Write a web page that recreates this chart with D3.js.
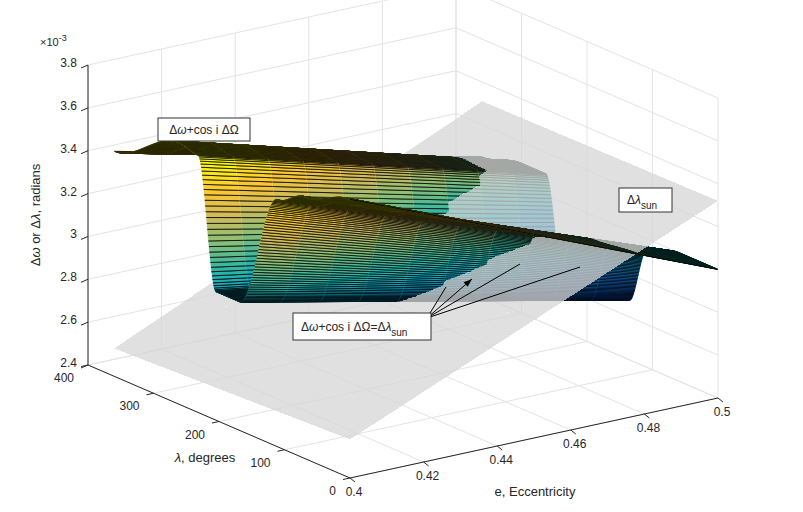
<!DOCTYPE html>
<html><head><meta charset="utf-8">
<script src="https://cdn.jsdelivr.net/npm/d3@7"></script>
<style>body{margin:0;background:#fff}text{font-family:"Liberation Sans",Arial,sans-serif;fill:#262626}</style>
</head><body>
<svg id="c" width="803" height="512"></svg>
<script>
// ---- data ----
const zTicks = [2.4, 2.6, 2.8, 3, 3.2, 3.4, 3.6, 3.8];
const zTickLabels = ["2.4","2.6","2.8","3","3.2","3.4","3.6","3.8"];
const lamTicks = [0, 100, 200, 300, 400];
const eTicks = [0.4, 0.42, 0.44, 0.46, 0.48, 0.5];
const eTickLabels = ["0.4","0.42","0.44","0.46","0.48","0.5"];
// surface profile knots (lambda -> z*1e3) at e=0.4 and e=0.5
const knotLam04 = [0, 70, 112, 168, 205, 232, 262, 360];
const knotZ04   = [3.70, 3.62, 3.55, 3.00, 3.00, 3.60, 3.62, 3.45];
const knotLam05 = [0, 60, 108, 135, 238, 262, 300, 360];
const knotZ05   = [3.00, 3.00, 2.95, 2.68, 2.68, 3.10, 3.10, 3.05];
// plane (Delta lambda_sun) corner values: [lam0,e0.4],[lam360,e0.4],[lam0,e0.5],[lam360,e0.5]
const planeZ = [2.58, 2.53, 3.32, 3.31];

// ---- projection ----
const aS = d3.scaleLinear().domain([0,400]).range([0,1]);
const bS = d3.scaleLinear().domain([0.4,0.5]).range([0,1]);
const cS = d3.scaleLinear().domain([2.4,3.8]).range([0,1]);
const O=[350,478], A=[-262,-113], B=[368,-80], H=300;
function proj(l,e,z){const a=aS(l),b=bS(e),c=cS(z);return [O[0]+a*A[0]+b*B[0], O[1]+a*A[1]+b*B[1]-c*H];}
function depth(l,e,z){return 0.75*aS(l)+0.55*bS(e)-0.25*cS(z);}

const svg=d3.select("#c");
const gGrid=svg.append("g"), gS=svg.append("g"), gA=svg.append("g");
const gridC="#e3e3e3";
function line(g,p,q,c,w){g.append("line").attr("x1",p[0]).attr("y1",p[1]).attr("x2",q[0]).attr("y2",q[1]).attr("stroke",c).attr("stroke-width",w||1);}
lamTicks.forEach(l=>line(gGrid,proj(l,0.4,2.4),proj(l,0.5,2.4),gridC));
eTicks.forEach(e=>line(gGrid,proj(0,e,2.4),proj(400,e,2.4),gridC));
zTicks.forEach(z=>line(gGrid,proj(400,0.4,z),proj(400,0.5,z),gridC));
eTicks.forEach(e=>line(gGrid,proj(400,e,2.4),proj(400,e,3.8),gridC));
zTicks.forEach(z=>line(gGrid,proj(400,0.5,z),proj(0,0.5,z),gridC));
lamTicks.forEach(l=>line(gGrid,proj(l,0.5,2.4),proj(l,0.5,3.8),gridC));

// ---- surface on a feature-following grid (s = knot index, fractional) ----
function ss(t){return t*t*(3-2*t);}
function surfPt(s,e){
  const t=bS(e), i=Math.min(Math.floor(s),knotLam04.length-2), u=s-i;
  const l0=knotLam04[i]+(knotLam05[i]-knotLam04[i])*t, l1=knotLam04[i+1]+(knotLam05[i+1]-knotLam04[i+1])*t;
  const z0=knotZ04[i]+(knotZ05[i]-knotZ04[i])*t, z1=knotZ04[i+1]+(knotZ05[i+1]-knotZ04[i+1])*t;
  return [l0+(l1-l0)*u, e, z0+(z1-z0)*ss(u)];
}
const sVals=[];
for(let i=0;i<knotLam04.length-1;i++){
  const len=((knotLam04[i+1]-knotLam04[i])+(knotLam05[i+1]-knotLam05[i]))/2;
  const n=Math.max(4,Math.round(len/0.75));
  for(let k=0;k<n;k++) sVals.push(i+k/n);
}
sVals.push(knotLam04.length-1);
function planeAt(l,e){const a=l/360,b=bS(e);return planeZ[0]*(1-a)*(1-b)+planeZ[1]*a*(1-b)+planeZ[2]*(1-a)*b+planeZ[3]*a*b;}
const parula=["#352a87","#0f5cdd","#1481d6","#06a4ca","#2eb7a4","#87bf77","#d1bb59","#fec832","#f9fb0e"];
const col=d3.scaleLinear().domain(d3.range(parula.length).map(i=>2.6+i*(3.55-2.6)/(parula.length-1))).range(parula).clamp(true);

const NE=10, cells=[];
for(let j=0;j<sVals.length-1;j++){
  for(let k=0;k<NE;k++){
    const e=0.4+k*0.1/NE, e1=e+0.1/NE;
    const q=[surfPt(sVals[j],e),surfPt(sVals[j],e1),surfPt(sVals[j+1],e1),surfPt(sVals[j+1],e)];
    const pts=q.map(v=>proj(...v));
    const zm=d3.mean(q,v=>v[2]), lm=d3.mean(q,v=>v[0]);
    cells.push({t:0,pts,d:depth(lm,e+0.05/NE,zm),c:col(zm)});
  }
}
const dl=2;
for(let l=0;l<360;l+=dl){
  for(let k=0;k<NE;k++){
    const e=0.4+k*0.1/NE, e1=e+0.1/NE, l1=l+dl;
    const ps=[planeAt(l,e),planeAt(l,e1),planeAt(l1,e1),planeAt(l1,e)];
    const pp=[proj(l,e,ps[0]),proj(l,e1,ps[1]),proj(l1,e1,ps[2]),proj(l1,e,ps[3])];
    cells.push({t:1,pts:pp,d:depth(l+dl/2,e+0.05/NE,d3.mean(ps)),c:"#d6d6d6"});
  }
}
cells.sort((p,q)=>q.d-p.d);
cells.forEach(c=>{
  const d="M"+c.pts.map(p=>p[0].toFixed(2)+","+p[1].toFixed(2)).join("L")+"Z";
  if(c.t===0){
    gS.append("path").attr("d",d).attr("fill",c.c).attr("stroke",c.c).attr("stroke-width",0.3);
    gS.append("path").attr("d","M"+c.pts[0]+"L"+c.pts[1]+"M"+c.pts[2]+"L"+c.pts[3]).attr("stroke","#000").attr("stroke-width",0.8).attr("fill","none");
  } else {
    gS.append("path").attr("d",d).attr("fill",c.c).attr("fill-opacity",0.75).attr("shape-rendering","crispEdges");
  }
});

// ---- axes ----
const ax="#262626";
line(gA,proj(400,0.4,2.4),proj(400,0.4,3.8),ax);
line(gA,proj(400,0.4,2.4),proj(0,0.4,2.4),ax);
line(gA,proj(0,0.4,2.4),proj(0,0.5,2.4),ax);
zTicks.forEach((z,i)=>{const p=proj(400,0.4,z);line(gA,p,[p[0]-7,p[1]+3],ax);
  gA.append("text").attr("x",p[0]-11).attr("y",p[1]+2).attr("text-anchor","end").attr("font-size",12).text(zTickLabels[i]);});
lamTicks.forEach(l=>{const p=proj(l,0.4,2.4);line(gA,p,[p[0]-7,p[1]+1.5],ax);
  gA.append("text").attr("x",p[0]-14).attr("y",p[1]+17).attr("text-anchor","end").attr("font-size",12).text(l);});
eTicks.forEach((e,i)=>{const p=proj(0,e,2.4);line(gA,p,[p[0]+5,p[1]+4],ax);
  gA.append("text").attr("x",p[0]+4).attr("y",p[1]+18).attr("text-anchor","middle").attr("font-size",12).text(eTickLabels[i]);});
const ex=gA.append("text").attr("x",40).attr("y",46).attr("font-size",11);
ex.append("tspan").text("×10");ex.append("tspan").attr("dy",-5).attr("font-size",9).text("-3");
gA.append("text").attr("x",205).attr("y",462).attr("text-anchor","middle").attr("font-size",13)
  .html('<tspan font-style="italic">λ</tspan>, degrees');
gA.append("text").attr("x",535).attr("y",496).attr("text-anchor","middle").attr("font-size",13).text("e, Eccentricity");
gA.append("text").attr("transform","translate(40,215) rotate(-90)").attr("text-anchor","middle").attr("font-size",13)
  .html('Δ<tspan font-style="italic">ω</tspan> or Δ<tspan font-style="italic">λ</tspan>, radians');

// ---- annotations ----
function box(x,y,w,h){gA.append("rect").attr("x",x).attr("y",y).attr("width",w).attr("height",h).attr("fill","#fff").attr("stroke","#333").attr("stroke-width",1);}
box(158,118,92,23);
gA.append("text").attr("x",204).attr("y",134).attr("text-anchor","middle").attr("font-size",12)
  .html('Δ<tspan font-style="italic">ω</tspan>+cos i ΔΩ');
box(619,188,53,24);
const t2=gA.append("text").attr("x",627).attr("y",204).attr("font-size",12);
t2.html('Δ<tspan font-style="italic">λ</tspan><tspan dy="5" font-size="10">sun</tspan>');
const src=[427,318];
const tgts=[[446,287],[472,279],[520,264],[580,267]];
tgts.forEach(t=>line(gA,src,t,"#000",1));
{const t=tgts[1],ang=Math.atan2(t[1]-src[1],t[0]-src[0]);
 const p=[[t[0],t[1]],[t[0]-9*Math.cos(ang-0.35),t[1]-9*Math.sin(ang-0.35)],[t[0]-9*Math.cos(ang+0.35),t[1]-9*Math.sin(ang+0.35)]];
 gA.append("path").attr("d","M"+p.join("L")+"Z").attr("fill","#000");}
box(293,313,138,27);
gA.append("text").attr("x",301).attr("y",331).attr("font-size",12)
  .html('Δ<tspan font-style="italic">ω</tspan>+cos i ΔΩ=Δ<tspan font-style="italic">λ</tspan><tspan dy="5" font-size="10">sun</tspan>');
</script>
</body></html>
